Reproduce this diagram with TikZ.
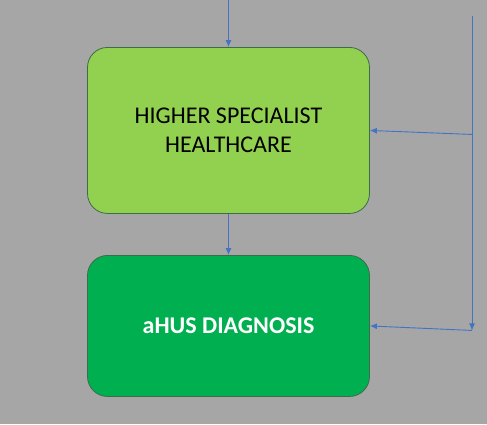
\documentclass[tikz,border=0pt]{standalone}
\usepackage{fontspec}
\setmainfont{Carlito}
\usetikzlibrary{arrows.meta}
\definecolor{bggray}{HTML}{A6A6A6}
\definecolor{lightgreen}{HTML}{92D050}
\definecolor{darkgreen}{HTML}{00B050}
\definecolor{boxline}{HTML}{3E6B4A}
\definecolor{arrowblue}{HTML}{4472C4}
\begin{document}
\begin{tikzpicture}[x=1pt, y=-1pt]
\tikzset{etape/.style={draw=boxline, line width=0.8pt, rectangle, rounded corners=20pt, minimum width=282pt, minimum height=166pt, align=center, font=\fontsize{24}{29}\selectfont}}
\tikzset{fleche/.style={draw=arrowblue, line width=0.9pt, -{Latex[length=7pt,width=6pt]}}}
\fill[bggray] (0,0) rectangle (487,424);
\node[etape, fill=lightgreen, text=black] (HSH) at (228.5,130) {HIGHER SPECIALIST\\HEALTHCARE};
\node[etape, fill=darkgreen, text=white, minimum height=141pt, font=\fontsize{24}{29}\selectfont\bfseries] (DIAG) at (228.5,325.5) {aHUS DIAGNOSIS};
\coordinate (T) at (228.5,0);
\coordinate (R1) at (472,16);
\coordinate (R2) at (472,330);
\coordinate (R3) at (472,134);
\draw[fleche] (T) -- (HSH);
\draw[fleche] (HSH) -- (DIAG);
\draw[fleche] (R1) -- (R2);
\draw[fleche] (R3) -- (HSH.east);
\draw[fleche] (R2) -- (DIAG.east);
\end{tikzpicture}
\end{document}
